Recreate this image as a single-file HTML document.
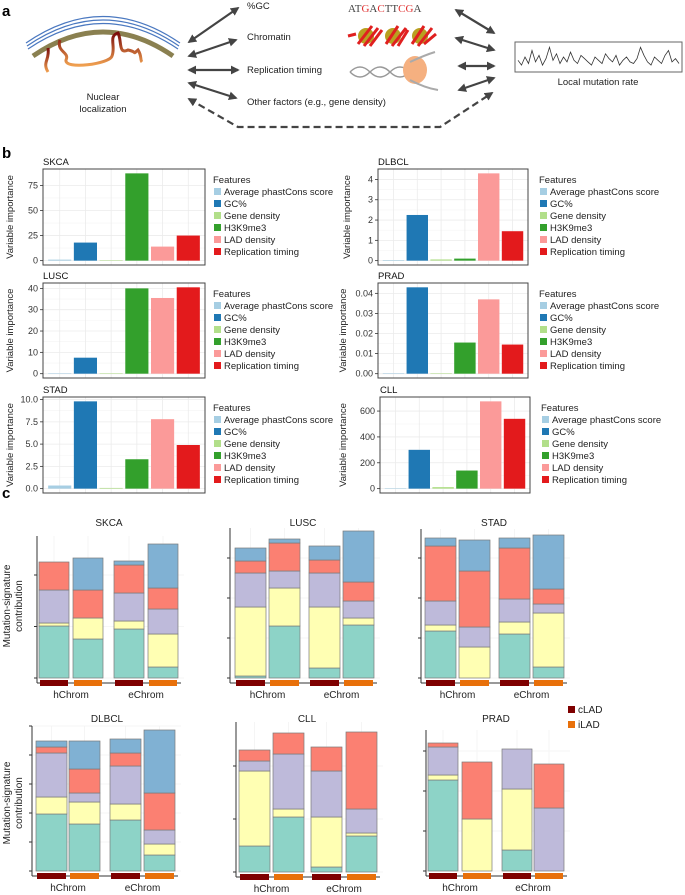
<!DOCTYPE html>
<html><head><meta charset="utf-8">
<style>
html,body{margin:0;padding:0;background:#fff;}
svg{display:block;font-family:"Liberation Sans",Arial,sans-serif;}
</style></head>
<body>
<svg id="fig" width="685" height="895" viewBox="0 0 685 895" xmlns="http://www.w3.org/2000/svg">
<defs>
<marker id="ah" viewBox="0 0 10 10" refX="8" refY="5" markerWidth="4" markerHeight="4" orient="auto-start-reverse"><path d="M0,0 L10,5 L0,10 z" fill="#444"/></marker>
<linearGradient id="loopg" x1="0" y1="0" x2="0" y2="1"><stop offset="0" stop-color="#7a0a0a"/><stop offset="1" stop-color="#f0a050"/></linearGradient>
</defs>
<text x="2" y="16" font-size="15" font-weight="bold">a</text>
<text x="2" y="158" font-size="15" font-weight="bold">b</text>
<text x="2" y="498" font-size="15" font-weight="bold">c</text>

<g>
  <path d="M26,43 Q103,-10 180,43" fill="none" stroke="#4a78c0" stroke-width="1.2"/>
  <path d="M27,46 Q103,-6 179,46" fill="none" stroke="#4a78c0" stroke-width="1.2"/>
  <path d="M28,49 Q103,-2 178,49" fill="none" stroke="#4a78c0" stroke-width="1.2"/>
  <path d="M33,56 Q103,8 173,56" fill="none" stroke="#8a8050" stroke-width="5"/>
  <path d="M48,48 C50,60 42,62 48,72" fill="none" stroke="url(#loopg)" stroke-width="3"/>
  <path d="M60,40 C56,52 70,52 66,60 C64,70 110,64 112,56 C116,46 108,36 118,33 C122,40 118,55 128,50 C138,52 132,55 138,50 C142,56 140,60 142,62" fill="none" stroke="url(#loopg)" stroke-width="3"/>
  <text x="103" y="100" font-size="9.5" text-anchor="middle" fill="#222">Nuclear</text>
  <text x="103" y="112" font-size="9.5" text-anchor="middle" fill="#222">localization</text>
  <g stroke="#444" stroke-width="2.2" fill="none" marker-start="url(#ah)" marker-end="url(#ah)">
    <line x1="189" y1="42" x2="238" y2="8"/>
    <line x1="189" y1="56" x2="236" y2="40"/>
    <line x1="189" y1="70" x2="238" y2="70"/>
    <line x1="189" y1="83" x2="236" y2="98"/>
    <line x1="456" y1="10" x2="494" y2="33"/>
    <line x1="456" y1="38" x2="494" y2="50"/>
    <line x1="459" y1="66" x2="494" y2="66"/>
    <line x1="459" y1="90" x2="494" y2="78"/>
  </g>
  <text x="247" y="9" font-size="9.5" fill="#222">%GC</text>
  <text x="247" y="40" font-size="9.5" fill="#222">Chromatin</text>
  <text x="247" y="73" font-size="9.5" fill="#222">Replication timing</text>
  <text x="247" y="105" font-size="9.5" fill="#222">Other factors (e.g., gene density)</text>
  <text x="348" y="12" font-size="11" font-family="Liberation Serif,serif" fill="#444">AT<tspan fill="#e03030">G</tspan>A<tspan fill="#e03030">C</tspan>TT<tspan fill="#e03030">CG</tspan>A</text>
  <g>
    <circle cx="366" cy="36" r="8" fill="#b8a020"/><circle cx="393" cy="36" r="8" fill="#b8a020"/><circle cx="420" cy="36" r="8" fill="#b8a020"/>
    <path d="M348,36 L356,34 M358,44 L372,26 M364,46 L378,28 M370,46 L382,30 M386,44 L398,26 M392,46 L406,28 M398,46 L408,30 M412,44 L424,26 M418,46 L432,28 M424,44 L436,34" stroke="#e02020" stroke-width="3"/>
  </g>
  <g>
    <path d="M350,72 Q360,62 370,72 T390,72 T410,72 M350,72 Q360,82 370,72 T390,72 T410,72" fill="none" stroke="#999" stroke-width="1.5"/>
    <ellipse cx="415" cy="70" rx="12" ry="14" fill="#f5b080"/>
    <path d="M410,62 Q425,55 435,52 M410,80 Q425,88 438,90" fill="none" stroke="#aaa" stroke-width="2"/>
  </g>
  <rect x="515" y="42" width="167" height="30" fill="#fff" stroke="#666" stroke-width="1"/>
  <polyline id="mutline" fill="none" stroke="#333" stroke-width="0.8"/>
  <text x="598" y="85" font-size="9.5" text-anchor="middle" fill="#222">Local mutation rate</text>
  <polyline points="189,99 238,127 440,127 492,93" fill="none" stroke="#444" stroke-width="2.2" stroke-dasharray="7,4" marker-start="url(#ah)" marker-end="url(#ah)"/>
</g>
<g id="panelB"></g>
<g id="panelC"></g>
</svg>
<script>
const mutRate=[6,3,8,4,12,5,9,3,7,14,6,10,4,8,5,11,6,4,9,7,5,3,8,6,4,10,7,5,9,3,6,8,5,4,7,14,9,5,3,8,6,4,9,12,5,7,4];
const features=["Average phastCons score","GC%","Gene density","H3K9me3","LAD density","Replication timing"];
const valSKCA=[1,18,0.5,87,14,25];
const valDLBCL=[0.03,2.25,0.06,0.1,4.3,1.45];
const valLUSC=[0.1,7.5,0.1,40,35.5,40.5];
const valPRAD=[0.0002,0.043,0.0002,0.0155,0.037,0.0145];
const valSTAD=[0.35,9.8,0.08,3.3,7.8,4.9];
const valCLL=[2,300,12,140,675,540];
const ticksSKCA=[0,25,50,75], ticksDLBCL=[0,1,2,3,4], ticksLUSC=[0,10,20,30,40];
const ticksPRAD=[0,0.01,0.02,0.03,0.04], ticksSTAD=[0,2.5,5,7.5,10], ticksCLL=[0,200,400,600];
const tickLabPRAD=["0.00","0.01","0.02","0.03","0.04"], tickLabSTAD=["0.0","2.5","5.0","7.5","10.0"];
const groups=["hChrom","eChrom"];
const cSKCA=[[52,39,49,11],[3,21,8,33],[33,0,28,25],[28,28,28,21],[0,32,4,44]];
const cLUSC=[[2,52,10,53],[69,38,61,7],[34,17,34,17],[12,28,13,19],[13,4,14,51]];
const cSTAD=[[47,0,44,11],[6,31,12,54],[24,20,23,9],[55,56,51,15],[8,31,10,54]];
const cDLBCL=[[57,47,51,16],[17,22,16,11],[44,9,38,14],[6,24,13,37],[6,28,14,63]];
const cCLL=[[26,55,5,36],[75,8,50,3],[10,55,46,24],[11,21,24,77],[0,0,0,0]];
const cPRAD=[[91,0,21,0],[5,52,61,0],[28,0,40,63],[4,57,0,44],[0,0,0,0]];

const NS="http://www.w3.org/2000/svg";
function mk(tag,attrs,parent){const e=document.createElementNS(NS,tag);for(const k in attrs)e.setAttribute(k,attrs[k]);parent.appendChild(e);return e;}

(function(){
  const x0=518,x1=679,y0=70,y1=44,mx=16;
  const pts=mutRate.map((v,i)=>(x0+i*(x1-x0)/(mutRate.length-1)).toFixed(1)+","+(y0-(v/mx)*(y0-y1)).toFixed(1));
  document.getElementById("mutline").setAttribute("points",pts.join(" "));
})();

const featColors=["#a6cee3","#1f78b4","#b2df8a","#33a02c","#fb9a99","#e31a1c"];
const B=document.getElementById("panelB");
function barPanel(name,vals,ticks,labels,x0,x1,y0,y1,legX,yLabX){
  const g=mk("g",{},B);
  
  
  const mx=Math.max(...vals), hi=mx*1.05, lo=-mx*0.05;
  const ys=v=>y1-(v-lo)/(hi-lo)*(y1-y0);
  const band=(x1-x0)/6.3;
  const xs=i=>x0+0.65*band+i*band;
  ticks.forEach((t,i)=>{ mk("line",{x1:x0,x2:x1,y1:ys(t),y2:ys(t),stroke:"#ebebeb","stroke-width":0.8},g);
    if(i<ticks.length-1){const m=(t+ticks[i+1])/2; mk("line",{x1:x0,x2:x1,y1:ys(m),y2:ys(m),stroke:"#f4f4f4","stroke-width":0.6},g);} });
  for(let i=0;i<6;i++) mk("line",{x1:xs(i),x2:xs(i),y1:y0,y2:y1,stroke:"#ebebeb","stroke-width":0.8},g);
  vals.forEach((v,i)=>{
    const r=mk("rect",{x:xs(i)-band*0.45,width:band*0.9,y:ys(v),height:Math.max(0.5,ys(0)-ys(v)),fill:featColors[i]},g);
    
    
  });
  mk("rect",{x:x0,y:y0,width:x1-x0,height:y1-y0,fill:"none",stroke:"#444","stroke-width":1},g);
  ticks.forEach((t,i)=>{
    mk("line",{x1:x0-3,x2:x0,y1:ys(t),y2:ys(t),stroke:"#333","stroke-width":0.8},g);
    const tx=mk("text",{x:x0-5,y:ys(t)+3,"font-size":9,"text-anchor":"end",fill:"#333"},g);
    tx.textContent=labels?labels[i]:String(t);
    
    
  });
  const tt=mk("text",{x:x0,y:y0-4,"font-size":9.5,fill:"#111"},g); tt.textContent=name;
  
  
  const yl=mk("text",{x:0,y:0,"font-size":9.5,"text-anchor":"middle",fill:"#222",transform:`translate(${yLabX},${(y0+y1)/2}) rotate(-90)`},g);
  yl.textContent="Variable importance";
  
  
  const ly=y0+14;
  const lt=mk("text",{x:legX,y:ly,"font-size":9.5,fill:"#222"},g); lt.textContent="Features";
  
  
  features.forEach((f,i)=>{
    const yy=ly+12*(i+1);
    mk("rect",{x:legX+1,y:yy-7,width:7,height:7,fill:featColors[i]},g);
    const t=mk("text",{x:legX+11,y:yy,"font-size":9.5,fill:"#222"},g); t.textContent=f;
    
    
  });
}
barPanel("SKCA",valSKCA,ticksSKCA,null,43,205,169,265,213,13);
barPanel("LUSC",valLUSC,ticksLUSC,null,43,205,283,378,213,13);
barPanel("STAD",valSTAD,ticksSTAD,tickLabSTAD,43,205,397,493,213,13);
barPanel("DLBCL",valDLBCL,ticksDLBCL,null,378,528,169,265,539,350);
barPanel("PRAD",valPRAD,ticksPRAD,tickLabPRAD,378,528,283,378,539,346);
barPanel("CLL",valCLL,ticksCLL,null,380,530,397,493,541,346);

const sigColors=["#8dd3c7","#ffffb3","#bebada","#fb8072","#80b1d3"];
const ladColors=["#7f0000","#e8700a"];
const C=document.getElementById("panelC");
function stackPanel(name,data,axisX,top,base,barX,w,step,titleX,titleY){
  const g=mk("g",{},C);
  
  
  const ys=v=>base-v;
  for(let k=0;k<4;k++) mk("line",{x1:barX[k]+w/2,x2:barX[k]+w/2,y1:top,y2:base,stroke:"#f3f3f3","stroke-width":0.8},g);
  for(let t=0;base-t>=top;t+=step) mk("line",{x1:axisX,x2:barX[3]+w+6,y1:ys(t),y2:ys(t),stroke:"#f3f3f3","stroke-width":0.8},g);
  for(let b=0;b<4;b++){
    let cum=0;
    for(let s=0;s<5;s++){
      const v=data[s][b]; if(v<=0) continue;
      const r=mk("rect",{x:barX[b],width:w,y:ys(cum+v),height:v,fill:sigColors[s],stroke:"#7a7a7a","stroke-width":0.7},g);
      
      
      cum+=v;
    }
  }
  mk("line",{x1:axisX,x2:axisX,y1:top,y2:base+5,stroke:"#333","stroke-width":1},g);
  for(let t=0;base-t>=top;t+=step) mk("line",{x1:axisX-3,x2:axisX,y1:ys(t),y2:ys(t),stroke:"#333","stroke-width":1},g);
  mk("line",{x1:axisX,x2:barX[3]+w+3,y1:base+5,y2:base+5,stroke:"#333","stroke-width":1},g);
  for(let b=0;b<4;b++){
    const r=mk("rect",{x:barX[b]+1,y:base+2,width:w-2,height:6,fill:ladColors[b%2]},g);
    
    
  }
  groups.forEach((gr,i)=>{
    const cx=(barX[2*i]+barX[2*i+1]+w)/2;
    const t=mk("text",{x:cx,y:base+20,"font-size":10,"text-anchor":"middle",fill:"#222"},g); t.textContent=gr;
    
    
  });
  const tt=mk("text",{x:titleX,y:titleY,"font-size":10,"text-anchor":"middle",fill:"#222"},g); tt.textContent=name;
  
  
}
stackPanel("SKCA",cSKCA,37,536,678,[39,73,114,148],30,51.5,109,526);
stackPanel("LUSC",cLUSC,230,528,678,[235,269,309,343],31,40,303,526);
stackPanel("STAD",cSTAD,421,529,678,[425,459,499,533],31,40,494,526);
stackPanel("DLBCL",cDLBCL,32,726,871,[36,69,110,144],31,29,107,722);
stackPanel("CLL",cCLL,236,722,872,[239,273,311,346],31,53,307,722);
stackPanel("PRAD",cPRAD,426,730,871,[428,462,502,534],30,40,496,722);
[[606],[803]].forEach((p,i)=>{
  const t1=mk("text",{x:0,y:0,"font-size":10,"text-anchor":"middle",fill:"#222",transform:`translate(10,${p[0]}) rotate(-90)`},C); t1.textContent="Mutation-signature";
  
  
  const t2=mk("text",{x:0,y:0,"font-size":10,"text-anchor":"middle",fill:"#222",transform:`translate(22,${p[0]}) rotate(-90)`},C); t2.textContent="contribution";
});
["cLAD","iLAD"].forEach((l,i)=>{
  mk("rect",{x:568,y:706+i*15,width:7,height:7,fill:ladColors[i]},C);
  const t=mk("text",{x:578,y:713+i*15,"font-size":10,fill:"#222"},C); t.textContent=l;
  
  
});
</script>
</body></html>
